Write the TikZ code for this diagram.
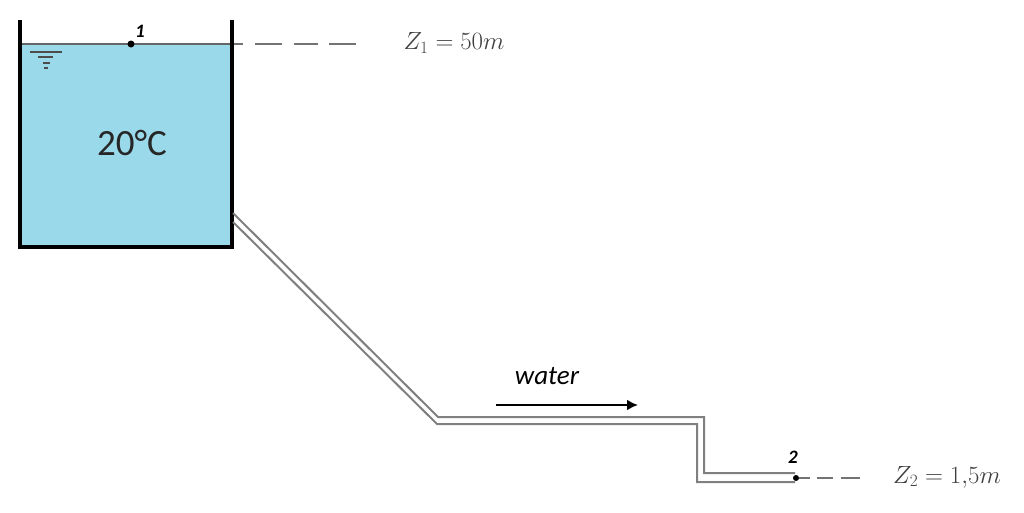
\documentclass[tikz,border=0pt]{standalone}
\usepackage{amsmath}
\usepackage{fontspec}
\setmainfont{Carlito}
\usepackage{tikz}
\usetikzlibrary{positioning,arrows.meta}
\definecolor{waterblue}{HTML}{99D9EA}

\begin{document}
\begin{tikzpicture}[x=1pt,y=-1pt]
\tikzset{wall/.style={line width=3.5pt,black},
  pipe/.style={line width=2pt,black!50},
  level/.style={line width=1.8pt,black!55},
  surf/.style={line width=1.1pt,black!70},
  P/.style={circle,fill=black,inner sep=0pt,minimum size=7pt},
  Z/.style={black!75,font=\fontsize{23.5}{26}\selectfont},
  num/.style={font=\fontsize{19}{22}\selectfont\bfseries\itshape}}

  \useasboundingbox (0,0) rectangle (1024,512);

  \fill[waterblue] (20,44) rectangle (232,247);
  \draw[line width=1.5pt,black!60] (20,44) -- (232,44);
  \draw[wall] (20,20) -- (20,247) -- (232,247) -- (232,20);

  \draw[surf] (30,52) -- (62,52);
  \draw[surf] (38,57) -- (53,57);
  \draw[surf] (43,63) -- (50,63);
  \draw[surf] (44,68) -- (48,68);

  \node[black!85] (temp) at (132,143) {\fontsize{37}{42}\selectfont 20°C};

  \node[P] (p1) at (131,44) {};
  \node[num] (n1) at (140,31) {1};
  \node[P,minimum size=6pt] (p2) at (796,478) {};
  \node[num] (n2) at (793,457) {2};

  \coordinate (a1) at (233,213);
  \coordinate (a2) at (438,417);
  \coordinate (a3) at (704,417);
  \coordinate (a4) at (704,473);
  \coordinate (a5) at (795,473);
  \coordinate (b1) at (233,222);
  \coordinate (b2) at (437,424);
  \coordinate (b3) at (697,424);
  \coordinate (b4) at (697,482);
  \coordinate (b5) at (795,482);
  \draw[pipe] (a1) -- (a2) -- (a3) -- (a4) -- (a5);
  \draw[pipe] (b1) -- (b2) -- (b3) -- (b4) -- (b5);

  \coordinate (e1) at (356,44);
  \coordinate (s1) at (234,44);
  \coordinate (e2) at (860,478);
  \draw[level,dash pattern=on 9pt off 12pt on 27pt off 12pt on 24pt off 11pt on 27pt] (s1) -- (e1);
  \draw[level,dash pattern=on 11pt off 7pt on 16pt off 8pt on 19pt] (p2) -- (e2);

  \node[Z] (z1) at (454,43) {$Z_1 = 50m$};
  \node[Z] (z2) at (947,477) {$Z_2 = 1{,}5m$};

  \node[font=\fontsize{27}{30}\selectfont\itshape] (wat) at (547,376) {water};
  \coordinate (f1) at (496,405);
  \coordinate (f2) at (638,405);
  \draw[-{Latex[length=11pt,width=11pt]},line width=2.2pt] (f1) -- (f2);
\end{tikzpicture}
\end{document}
